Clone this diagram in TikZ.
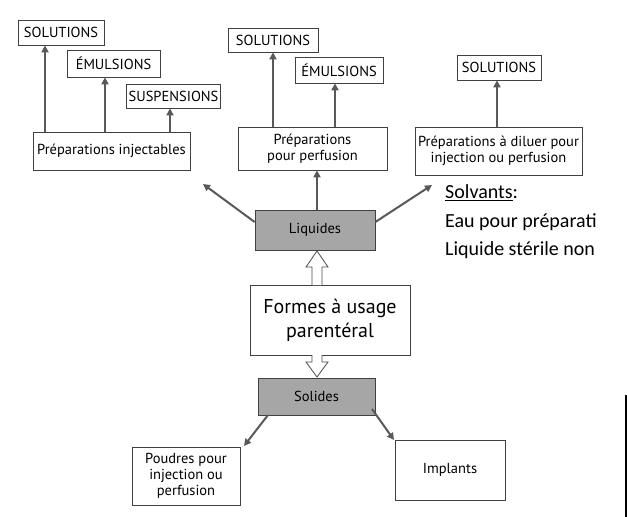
\documentclass[tikz,border=0pt]{standalone}
\usepackage{fontspec}
\setmainfont{PT Sans}
\newfontfamily\calib{Carlito}
\usetikzlibrary{arrows.meta}
\begin{document}
\begin{tikzpicture}[x=1pt,y=-1pt,
  bx/.style={draw=black!75,line width=0.7pt,fill=white,inner sep=2pt,align=center,font=\fontsize{14.5}{16}\selectfont},
  gb/.style={bx,fill=black!35},
  ar/.style={draw=black!65,line width=2pt,-{Triangle[length=7pt,width=7pt]}},
  hol/.style={draw=black!70,line width=0.8pt,fill=white}]
\clip (0,0) rectangle (627,517);
\useasboundingbox (0,0) rectangle (627,517);
\fill[white] (0,0) rectangle (627,517);
\node[bx,minimum width=86,minimum height=25] (s1) at (61,32.5) {SOLUTIONS};
\node[bx,minimum width=93,minimum height=27] (e1) at (113.5,63.5) {ÉMULSIONS};
\node[bx,minimum width=93,minimum height=24] (su) at (173.5,96) {SUSPENSIONS};
\node[bx,minimum width=157,minimum height=38] (pi) at (111.5,151) {Préparations injectables};
\node[bx,minimum width=90,minimum height=24] (s2) at (273,40) {SOLUTIONS};
\node[bx,minimum width=88,minimum height=26] (e2) at (339,70) {ÉMULSIONS};
\node[bx,minimum width=149,minimum height=43] (pp) at (312.5,148.5) {Préparations\\pour perfusion};
\node[bx,minimum width=84,minimum height=25] (s3) at (499,67.5) {SOLUTIONS};
\node[bx,minimum width=167,minimum height=48] (pd) at (498.5,151) {Préparations à diluer pour\\injection ou perfusion};
\node[gb,minimum width=120,minimum height=40] (li) at (315,230) {Liquides};
\node[bx,minimum width=160,minimum height=70,font=\fontsize{20}{24}\selectfont] (fo) at (330,320) {Formes à usage\\parentéral};
\node[gb,minimum width=117,minimum height=37] (so) at (316.5,396.5) {Solides};
\node[bx,minimum width=108,minimum height=58] (po) at (186,476) {Poudres pour\\injection ou\\perfusion};
\node[bx,minimum width=110,minimum height=60] (im) at (450,470) {Implants};
\draw[ar] (pi.north -| 45,0) -- (s1.south -| 45,0);
\draw[ar] (pi.north -| 105,0) -- (e1.south -| 105,0);
\draw[ar] (pi.north -| 170,0) -- (su.south -| 170,0);
\draw[ar] (pp.north -| 273,0) -- (s2.south -| 273,0);
\draw[ar] (pp.north -| 335,0) -- (e2.south -| 335,0);
\draw[ar] (pd.north -| 497,0) -- (s3.south -| 497,0);
\coordinate (a1) at (203,184);
\coordinate (a2) at (432,185);
\draw[ar] (li.west |- 0,222) -- (a1);
\draw[ar] (li.north -| 317,0) -- (pp.south -| 317,0);
\draw[ar] (li.east |- 0,222) -- (a2);
\coordinate (b0) at (268,415);
\coordinate (b1) at (372,409);
\draw[ar] (b0) -- (244,446);
\draw[ar] (b1) -- (394,440);
\draw[hol] (312,285) -- (312,267) -- (306,267) -- (317,251) -- (328,267) -- (322,267) -- (322,285);
\draw[hol] (312,355) -- (312,362) -- (306,362) -- (317,377) -- (328,362) -- (322,362) -- (322,355);
\node[anchor=west,font=\calib\fontsize{20}{24}\selectfont,inner sep=0] (sv) at (445,193) {\underline{Solvants}:};
\node[anchor=west,font=\calib\fontsize{20}{24}\selectfont,inner sep=0] (t1) at (445,222) {Eau pour préparati};
\node[anchor=west,font=\calib\fontsize{20}{24}\selectfont,inner sep=0] (t2) at (445,250) {Liquide stérile non};
\draw[line width=1.2pt] (626,395) -- (626,517);
\end{tikzpicture}
\end{document}
